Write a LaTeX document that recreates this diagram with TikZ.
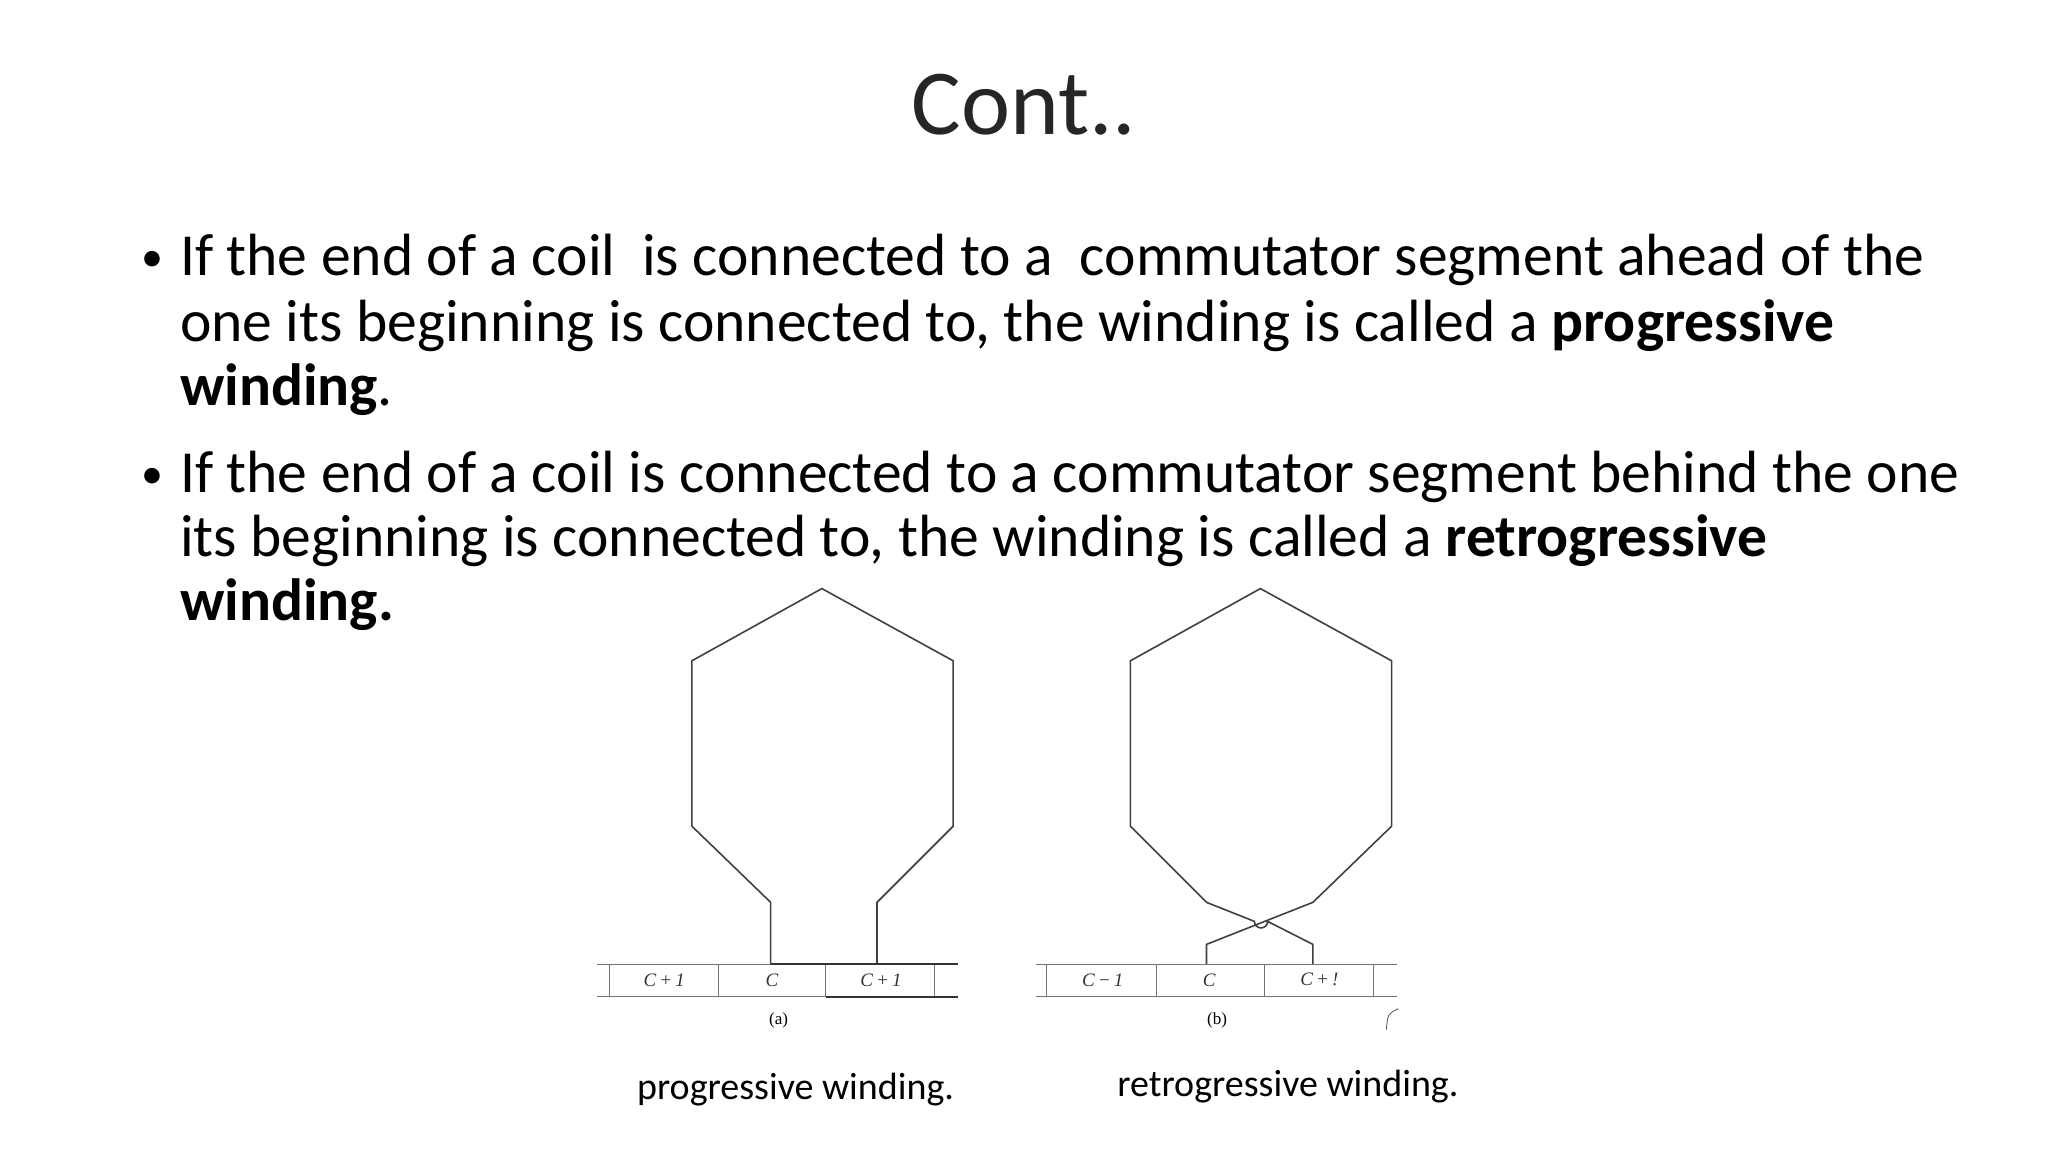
\documentclass[tikz,border=0pt]{standalone}
\usepackage{fontspec}
\setmainfont{Carlito}
\newfontfamily\segfont{Liberation Serif}
\begin{document}
\begin{tikzpicture}[x=1.3128pt,y=-1.3128pt,
  coil/.style={draw=black!75,line width=1.6pt,line join=miter},
  comm/.style={draw=black!55,line width=1pt},
  txt/.style={anchor=base west,inner sep=0pt,font=\fontsize{59.6}{66}\selectfont},
  seg/.style={font=\fontsize{19}{19}\selectfont\segfont\itshape,inner sep=0pt,text=black!80},
  captxt/.style={font=\fontsize{38}{38}\selectfont,inner sep=0pt}]
\useasboundingbox (0,0) rectangle (1560,877.5);
\node[inner sep=0pt,font=\fontsize{93}{93}\selectfont,text=black!85] (title) at (780,80) {Cont..};
\node[txt,font=\fontsize{44}{66}\selectfont] (b1) at (108,207) {•};
\node[txt] (l1) at (137,210) {If the end of a coil\ \ is connected to a\ \ commutator segment ahead of the};
\node[txt] (l2) at (137,260) {one its beginning is connected to, the winding is called a \textbf{progressive}};
\node[txt] (l3) at (137,309) {\textbf{winding}.};
\node[txt,font=\fontsize{44}{66}\selectfont] (b2) at (108,372) {•};
\node[txt] (l4) at (137,375) {If the end of a coil is connected to a commutator segment behind the one};
\node[txt] (l5) at (137,424) {its beginning is connected to, the winding is called a \textbf{retrogressive}};
\node[txt] (l6) at (137,473) {\textbf{winding.}};
\begin{scope}[xshift=-3.9pt,yshift=3.5pt]
% coil a
\draw[coil] (590,737) -- (590,690) -- (530,632) -- (530,506) -- (629,451) -- (729,506) -- (729,632) -- (671,690) -- (671,737);
\draw[comm] (458,737) -- (733,737) (458,762) -- (733,762);
\draw[comm] (467,737) -- (467,762) (550,737) -- (550,762) (632,737) -- (632,762) (715,737) -- (715,762);
\draw[draw=black!80,line width=1.4pt] (590,737) -- (733,737) (632,762) -- (733,762);
\node[seg] (sa1) at (509,749) {C\,+\,1};
\node[seg] (sa2) at (591,749) {C};
\node[seg] (sa3) at (674,749) {C\,+\,1};
\node[font=\fontsize{17}{17}\selectfont\segfont,inner sep=0pt] (la) at (596,780) {(a)};
% coil b
\draw[coil] (922,737) -- (922,722) -- (1003,690) -- (1063,632) -- (1063,506) -- (963,451) -- (864,506) -- (864,632) -- (922,690) -- (958.5,704.5) arc[start angle=180,end angle=0,radius=5] -- (1003,722) -- (1003,737);
\draw[comm] (792,737) -- (1067,737) (792,762) -- (1067,762);
\draw[comm] (800,737) -- (800,762) (884,737) -- (884,762) (966,737) -- (966,762) (1049,737) -- (1049,762);
\node[seg] (sb1) at (843,749) {C\,−\,1};
\node[seg] (sb2) at (924,749) {C};
\node[seg] (sb3) at (1008,749) {C\,+\,!};
\node[font=\fontsize{17}{17}\selectfont\segfont,inner sep=0pt] (lb) at (930,780) {(b)};
\draw[black!70,line width=0.8pt] (1068,771) .. controls (1060,775) .. (1059,787);
\end{scope}
\node[captxt] (ca) at (606,830) {progressive winding.};
\node[captxt] (cb) at (981,828) {retrogressive winding.};
\end{tikzpicture}
\end{document}
